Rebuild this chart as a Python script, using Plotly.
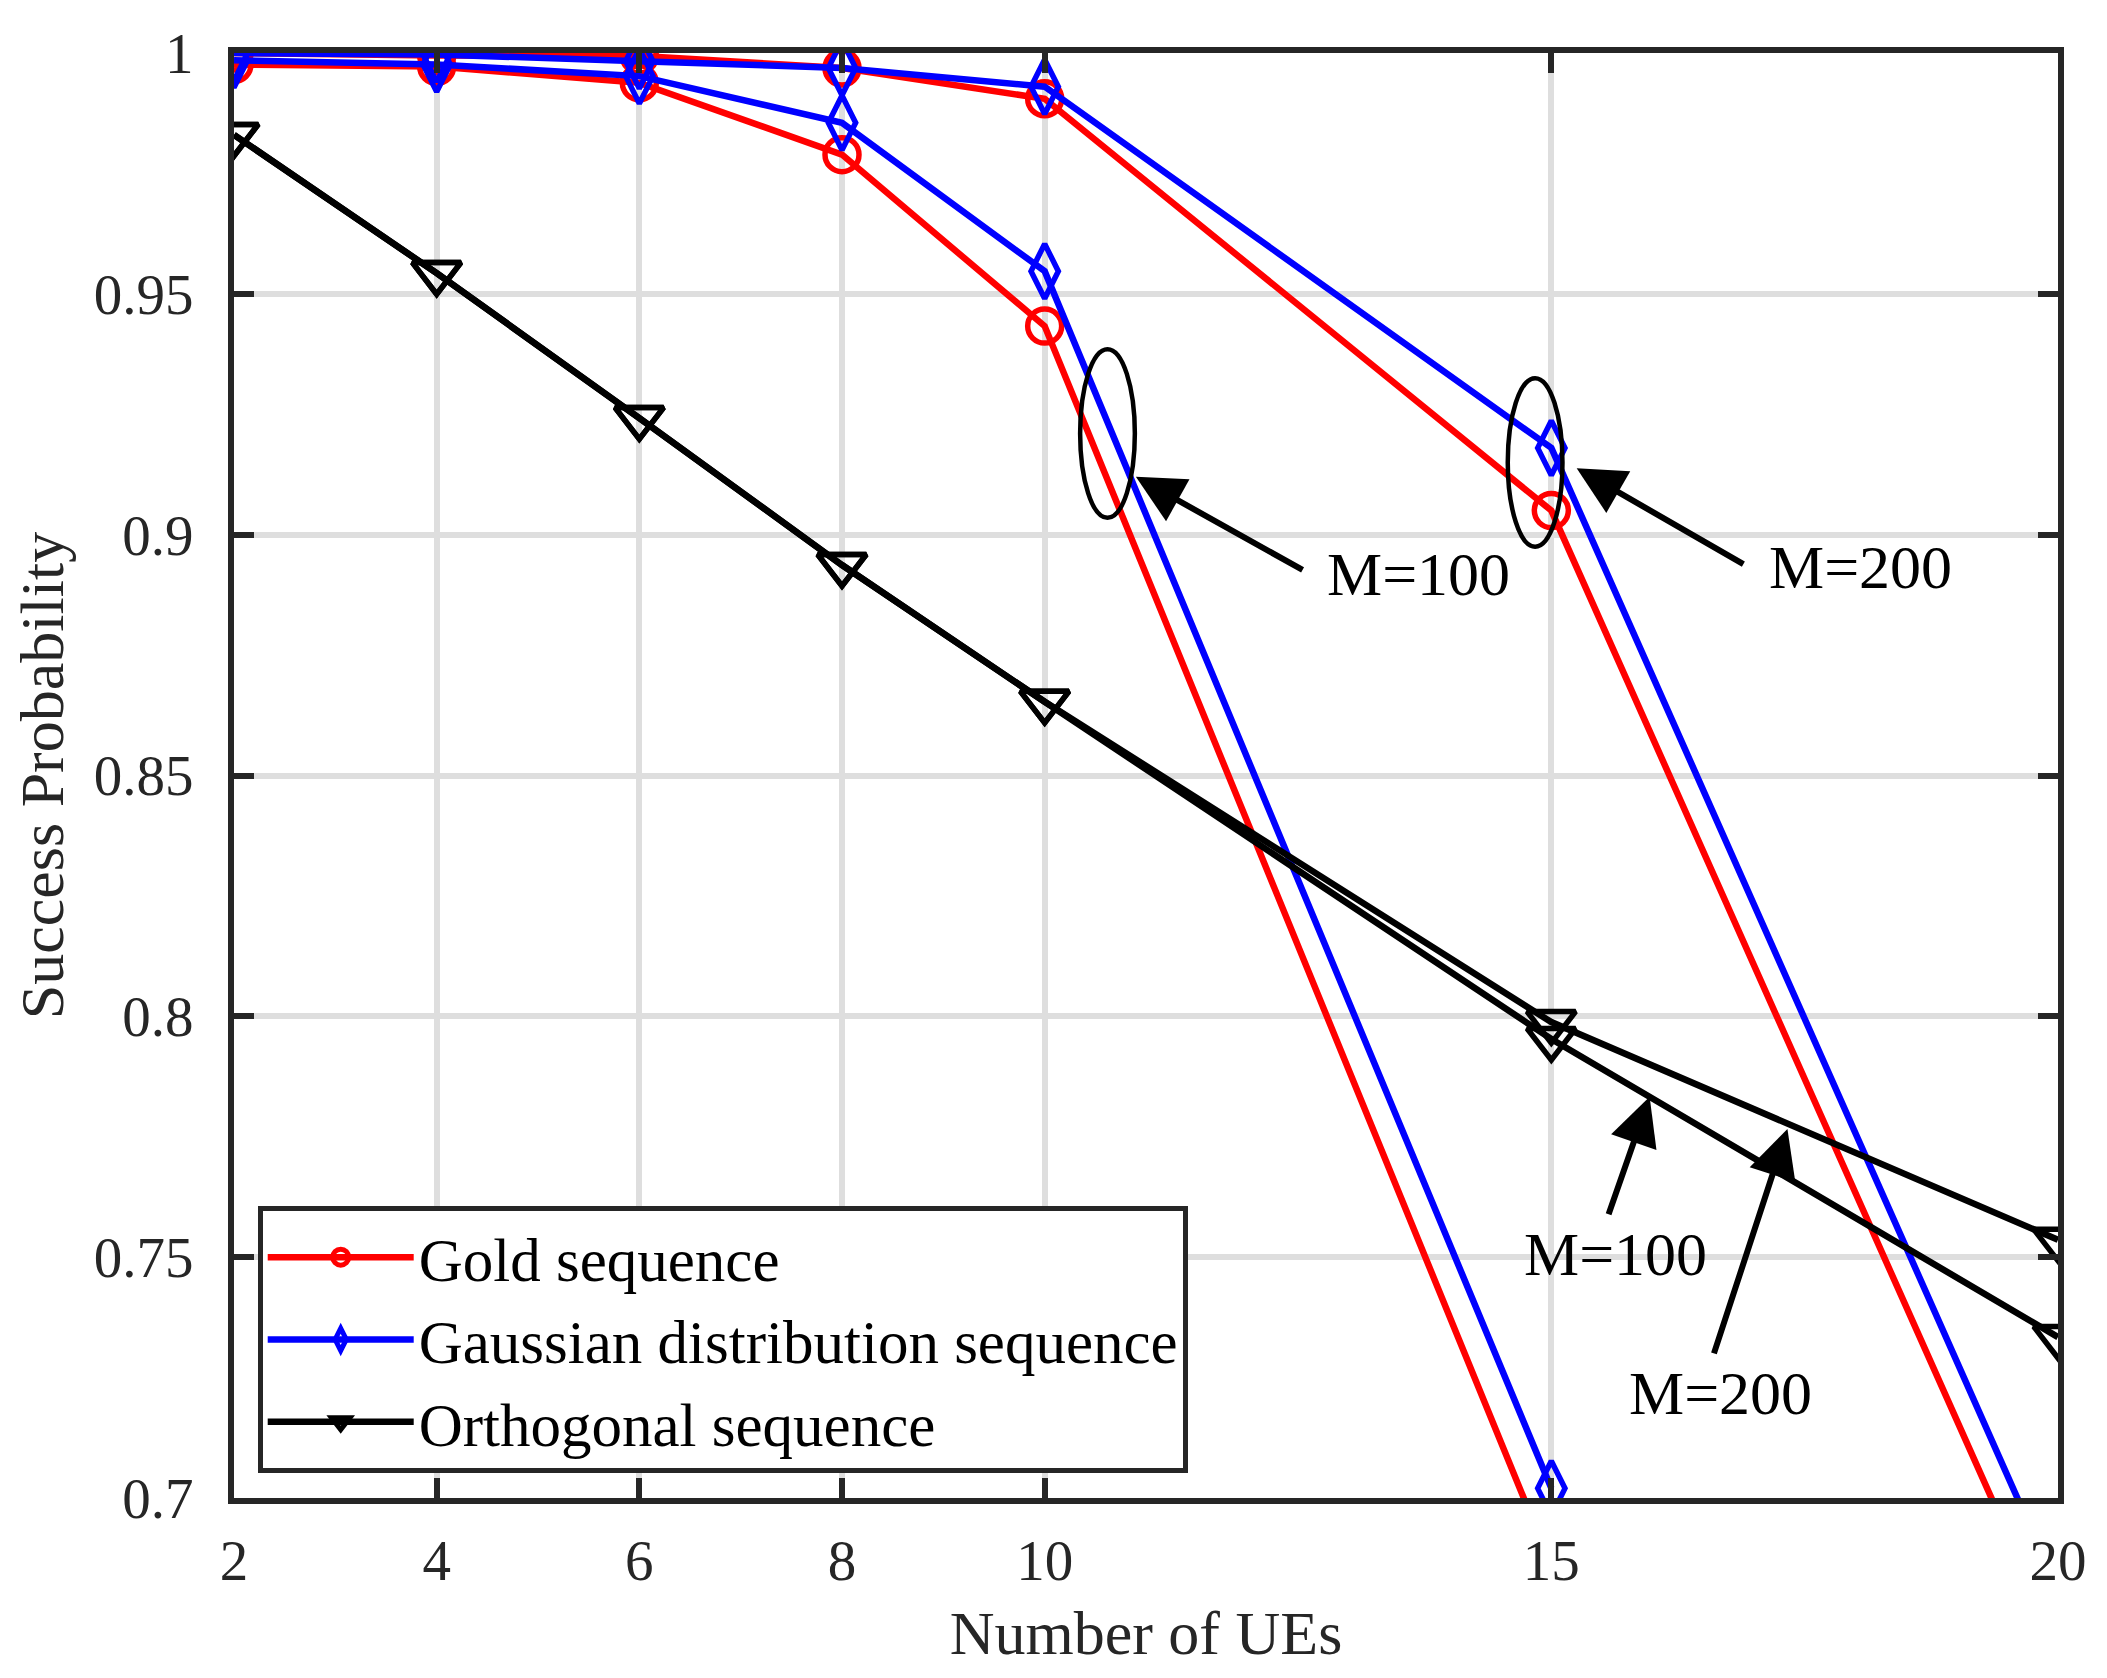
import plotly.graph_objects as go

# Number of UEs
ues = [2, 4, 6, 8, 10, 15, 20]
ues_m100 = [2, 4, 6, 8, 10, 15]

# success probability
gold_m200 = [1.0, 0.9995, 0.9994, 0.9969, 0.9905, 0.905, 0.669]
gold_m100 = [0.9976, 0.9972, 0.9938, 0.9789, 0.9433, 0.686]
gauss_m200 = [1.0, 0.9997, 0.9983, 0.9969, 0.993, 0.918, 0.681]
gauss_m100 = [0.9985, 0.9976, 0.9952, 0.9855, 0.9547, 0.702]
orth_m100 = [0.983, 0.9543, 0.9242, 0.8937, 0.8653, 0.7988, 0.7536]
orth_m200 = [0.983, 0.9543, 0.9242, 0.8937, 0.8653, 0.7953, 0.7334]

yticks = [0.7, 0.75, 0.8, 0.85, 0.9, 0.95, 1.0]
ytick_text = ['0.7', '0.75', '0.8', '0.85', '0.9', '0.95', '1']

FONT = 'Liberation Serif'
AX = '#262626'
SIZES = {'circle-open': 34, 'diamond-tall-open': 39, 'triangle-down-open': 42}


def curve(x, y, color, symbol, name, show):
    return go.Scatter(x=x, y=y, mode='lines+markers', name=name, showlegend=show,
                      line=dict(color=color, width=6.5),
                      marker=dict(symbol=symbol, size=SIZES[symbol], color=color,
                                  line=dict(color=color, width=5.5)))


fig = go.Figure()
fig.add_trace(curve(ues, gold_m200, '#ff0000', 'circle-open', 'Gold sequence', True))
fig.add_trace(curve(ues_m100, gold_m100, '#ff0000', 'circle-open', 'Gold sequence', False))
fig.add_trace(curve(ues, gauss_m200, '#0000ff', 'diamond-tall-open', 'Gaussian distribution sequence', True))
fig.add_trace(curve(ues_m100, gauss_m100, '#0000ff', 'diamond-tall-open', 'Gaussian distribution sequence', False))
fig.add_trace(curve(ues, orth_m100, '#000000', 'triangle-down-open', 'Orthogonal sequence', True))
fig.add_trace(curve(ues, orth_m200, '#000000', 'triangle-down-open', 'Orthogonal sequence', False))

# ellipses around the M=100 / M=200 pairs
for cx, cy in [(10.62, 0.921), (14.84, 0.915)]:
    fig.add_shape(type='circle', xref='x', yref='y',
                  x0=cx - 0.27, x1=cx + 0.27, y0=cy - 0.0175, y1=cy + 0.0175,
                  line=dict(color='black', width=4.5))

# arrows: (head x, head y, tail x, tail y)
arrows = [(10.90, 0.912, 12.56, 0.8925),
          (15.25, 0.9138, 16.91, 0.8937),
          (15.97, 0.7833, 15.56, 0.7586),
          (17.33, 0.7766, 16.60, 0.7297)]
for hx, hy, tx, ty in arrows:
    fig.add_annotation(x=hx, y=hy, ax=tx, ay=ty, xref='x', yref='y', axref='x', ayref='y',
                       text='', showarrow=True, arrowhead=2, arrowsize=1.6, arrowwidth=6,
                       arrowcolor='black')

labels = [(13.69, 0.8918, 'M=100'), (18.05, 0.8933, 'M=200'),
          (15.63, 0.7507, 'M=100'), (16.67, 0.7218, 'M=200')]
for lx, ly, txt in labels:
    fig.add_annotation(x=lx, y=ly, xref='x', yref='y', text=txt, showarrow=False,
                       font=dict(family=FONT, size=62, color='black'))

axis_common = dict(showline=True, linecolor=AX, linewidth=6, mirror='ticks',
                   ticks='inside', ticklen=20, tickwidth=6, tickcolor=AX,
                   showgrid=True, gridcolor='#dedede', gridwidth=6, zeroline=False,
                   tickfont=dict(family=FONT, size=57, color=AX))

fig.update_xaxes(range=[2, 20], tickvals=ues, ticklabelstandoff=8, **axis_common,
                 title=dict(text='Number of UEs', font=dict(family=FONT, size=62, color=AX), standoff=21))
fig.update_yaxes(range=[0.7, 1.0], tickvals=yticks, ticktext=ytick_text, ticklabelstandoff=23,
                 **axis_common,
                 title=dict(text='Success Probability', font=dict(family=FONT, size=62, color=AX), standoff=16))

# page body adds a small margin, so the figure is a bit smaller than the window
fig.update_layout(width=2091, height=1662,
                  margin=dict(l=226, r=33, t=45, b=172),
                  plot_bgcolor='white', paper_bgcolor='white',
                  legend=dict(x=0.013, y=0.0173, xanchor='left', yanchor='bottom',
                              bgcolor='white', bordercolor=AX, borderwidth=5,
                              font=dict(family=FONT, size=61, color='black'),
                              itemwidth=146, tracegroupgap=0))

fig.write_html('out.html')
